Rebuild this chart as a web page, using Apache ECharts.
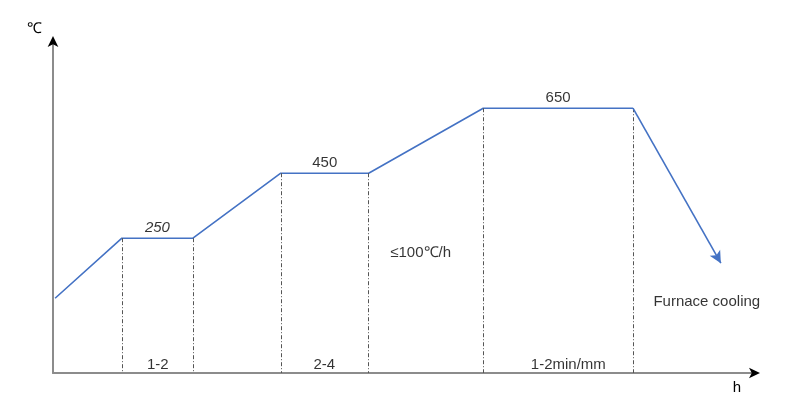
<!DOCTYPE html>
<html>
<head>
<meta charset="utf-8">
<script src="https://cdn.jsdelivr.net/npm/echarts@6/dist/echarts.min.js"></script>
<style>html,body{margin:0;padding:0;background:#fff;}#c{width:800px;height:410px;}</style>
</head>
<body>
<div id="c"></div>
<script>
// Process curve (time in arbitrary units, temperature in ℃)
const timePts = [0.3, 9.8, 19.9, 32.4, 44.9, 61.2, 82.5];
const tempPts = [65, 250, 250, 450, 450, 650, 650];
const coolEnd = [95.0, 173];
// hold plateau labels
const holdLabels = ['250', '450', '650'];
const holdIdx = [1, 3, 5];
// stage (time) labels along the x axis
const stageLabels = ['1-2', '2-4', '1-2min/mm'];
const stageX = [14.9, 38.6, 73.3];
// free notes
const notes = ['≤100℃/h', 'Furnace cooling'];
const notesX = [52.3, 93.0];
const notesY = [204, 53];

const yMin = -165, yMax = 860;
const blue = '#4472C4';
const font = 'Liberation Sans, Arial, sans-serif';

const curve = timePts.map((t, i) => [t, tempPts[i]]);
const dashPairs = [];
for (let i = 1; i < timePts.length; i++) {
  dashPairs.push([{coord: [timePts[i], tempPts[i]]}, {coord: [timePts[i], yMin]}]);
}
const holdData = holdIdx.map((k, i) => ({
  value: [(timePts[k] + timePts[k + 1]) / 2, tempPts[k]],
  name: holdLabels[i],
  label: i === 0 ? {fontStyle: 'italic'} : {}
}));
const stageData = stageLabels.map((s, i) => ({value: [stageX[i], yMin], name: s}));
const noteData = notes.map((s, i) => ({value: [notesX[i], notesY[i]], name: s}));

const hidden = {axisTick: {show: false}, axisLabel: {show: false}, splitLine: {show: false}};
const arrowOnly = {onZero: false, lineStyle: {color: '#000', width: 0.01}, symbol: ['none', 'arrow'], symbolSize: [8, 11], symbolOffset: [0, 4]};

const chart = echarts.init(document.getElementById('c'));
chart.setOption({
  animation: false,
  grid: {left: 53, right: 44, top: 40, bottom: 37},
  xAxis: [{
    type: 'value', min: 0, max: 100, ...hidden,
    axisLine: {onZero: false, lineStyle: {color: '#8c8c8c', width: 2}},
    name: 'h', nameLocation: 'end', nameGap: -19,
    nameTextStyle: {color: '#000', fontSize: 15, fontFamily: font, align: 'center', verticalAlign: 'top', padding: [7, 0, 0, 0]}
  }, {
    type: 'value', min: 0, max: 100, position: 'bottom', ...hidden, axisLine: arrowOnly
  }],
  yAxis: [{
    type: 'value', min: yMin, max: yMax, ...hidden,
    axisLine: {onZero: false, lineStyle: {color: '#8c8c8c', width: 2}},
    name: '℃', nameLocation: 'end', nameGap: 4,
    nameTextStyle: {color: '#000', fontSize: 15, fontFamily: font, align: 'right', verticalAlign: 'bottom', padding: [0, 11, 0, 0]}
  }, {
    type: 'value', min: yMin, max: yMax, position: 'left', ...hidden, axisLine: arrowOnly
  }],
  series: [
    {
      type: 'line', data: curve, symbol: 'none', silent: true,
      lineStyle: {color: blue, width: 1.6},
      markLine: {
        silent: true, symbol: 'none', animation: false,
        lineStyle: {color: '#555', width: 1, type: [4, 2, 1, 2]},
        label: {show: false},
        data: dashPairs
      }
    },
    {
      type: 'line', data: [], silent: true,
      markLine: {
        silent: true, animation: false,
        symbol: ['none', 'arrow'], symbolSize: [9, 12],
        lineStyle: {color: blue, width: 1.6, type: 'solid'},
        label: {show: false},
        data: [[{coord: curve[curve.length - 1]}, {coord: coolEnd}]]
      }
    },
    {
      type: 'scatter', data: holdData, symbolSize: 0, silent: true,
      label: {show: true, position: 'top', distance: 3, formatter: p => p.name,
        color: '#000', fontSize: 15, fontFamily: font}
    },
    {
      type: 'scatter', data: stageData, symbolSize: 0, silent: true,
      label: {show: true, position: 'top', distance: 1, formatter: p => p.name,
        color: '#000', fontSize: 15, fontFamily: font}
    },
    {
      type: 'scatter', data: noteData, symbolSize: 0, silent: true,
      label: {show: true, position: 'inside', formatter: p => p.name,
        color: '#000', fontSize: 15, fontFamily: font}
    }
  ]
});
</script>
</body>
</html>
